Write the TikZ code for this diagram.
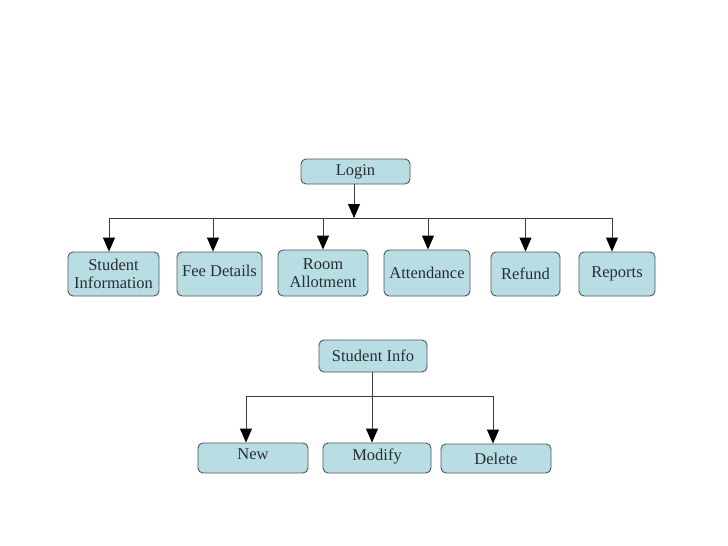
\documentclass[tikz,border=0pt]{standalone}
\usepackage{fontspec}
\setmainfont{Liberation Serif}
\usetikzlibrary{arrows.meta,positioning}
\definecolor{boxfill}{RGB}{184,222,228}
\definecolor{boxline}{RGB}{80,85,88}
\definecolor{txt}{RGB}{40,45,50}
\definecolor{conn}{RGB}{60,60,60}
\tikzset{
  box/.style={draw=boxline, fill=boxfill, rounded corners=5pt, line width=0.9pt,
    inner sep=0pt, text=txt, font=\fontsize{16.5}{18}\selectfont, align=center},
  link/.style={draw=conn, line width=0.9pt},
  arr/.style={link, -{Triangle[width=12pt,length=14pt,fill=black,color=black]}}
}
\begin{document}
\begin{tikzpicture}[x=1pt,y=-1pt]
\useasboundingbox (0,0) rectangle (728,546);
% top level
\node[box, minimum width=109pt, minimum height=25pt] (login) at (355.5,171.5) {Login};
\node[box, minimum width=91pt, minimum height=44pt] (si) at (113.5,274) {Student\\Information};
\node[box, minimum width=85pt, minimum height=44pt] (fee) at (219.5,274) {\raisebox{6pt}{Fee Details}};
\node[box, minimum width=90pt, minimum height=46pt] (room) at (323,273) {Room\\Allotment};
\node[box, minimum width=86pt, minimum height=46pt] (att) at (427,273) {Attendance};
\node[box, minimum width=69pt, minimum height=44pt] (ref) at (525.5,274) {Refund};
\node[box, minimum width=76pt, minimum height=44pt] (rep) at (617,274) {Reports};
\coordinate (bus1) at (354,218);
\draw[arr] (login.south -| bus1) -- (bus1);
\draw[link] ([xshift=-4.5pt]si.north |- bus1) -- ([xshift=-5pt]rep.north |- bus1);
\draw[arr] ([xshift=-4.5pt]si.north |- bus1) -- ([xshift=-4.5pt]si.north);
\draw[arr] ([xshift=-6.5pt]fee.north |- bus1) -- ([xshift=-6.5pt]fee.north);
\draw[arr] (room.north |- bus1) -- (room.north);
\draw[arr] ([xshift=1pt]att.north |- bus1) -- ([xshift=1pt]att.north);
\draw[arr] (ref.north |- bus1) -- (ref.north);
\draw[arr] ([xshift=-5pt]rep.north |- bus1) -- ([xshift=-5pt]rep.north);
% second tree
\node[box, minimum width=108pt, minimum height=32pt] (sinfo) at (373,356) {Student Info};
\node[box, minimum width=110pt, minimum height=30pt] (new) at (253,458) {\raisebox{8pt}{New}};
\node[box, minimum width=108pt, minimum height=30pt] (mod) at (377,458) {\raisebox{6pt}{Modify}};
\node[box, minimum width=110pt, minimum height=29pt] (del) at (496,458.5) {\raisebox{-2pt}{Delete}};
\coordinate (bus2) at (372,396);
\draw[link] ([xshift=-7pt]new.north |- bus2) -- ([xshift=-3pt]del.north |- bus2);
\draw[arr] ([xshift=-1pt]sinfo.south) -- ([xshift=-5pt]mod.north);
\draw[arr] ([xshift=-7pt]new.north |- bus2) -- ([xshift=-7pt]new.north);
\draw[arr] ([xshift=-3pt]del.north |- bus2) -- ([xshift=-3pt]del.north);
\end{tikzpicture}
\end{document}
